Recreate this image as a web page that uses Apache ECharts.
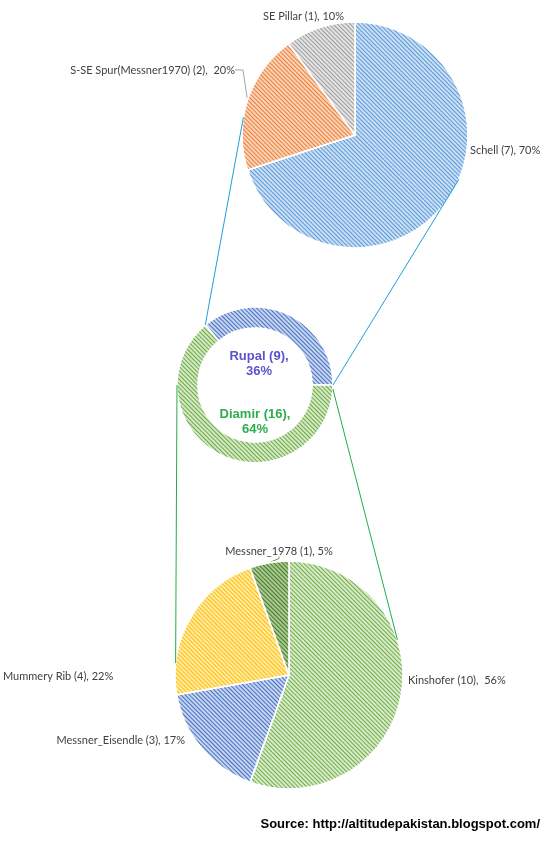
<!DOCTYPE html>
<html>
<head>
<meta charset="utf-8">
<script src="https://cdn.jsdelivr.net/npm/echarts@6/dist/echarts.min.js"></script>
<style>
  html, body { margin: 0; padding: 0; background: #ffffff; }
  #chart { width: 550px; height: 843px; }
</style>
</head>
<body>
<div id="chart"></div>
<script>
// ---- data ----
const rupalRoutes = ['Schell', 'S-SE Spur(Messner1970)', 'SE Pillar'];
const rupalCounts = [7, 2, 1];
const faceNames = ['Rupal', 'Diamir'];
const faceCounts = [9, 16];
const diamirRoutes = ['Kinshofer', 'Messner_Eisendle', 'Mummery Rib', 'Messner_1978'];
const diamirCounts = [10, 3, 4, 1];
const sourceText = 'Source: http://altitudepakistan.blogspot.com/';

// ---- styling ----
const rupalFill = ['#C9DEF3', '#F9D2B6', '#E2E2E2'];
const rupalStripe = ['#5C9AD8', '#EC7F3A', '#9E9E9E'];
const faceFill = ['#C7D4EE', '#D3E8C5'];
const faceStripe = ['#4470C4', '#6EAA45'];
const diamirFill = ['#D6EAC9', '#C7D4EE', '#FFE9A6', '#A6C98D'];
const diamirStripe = ['#72AE4A', '#4470C4', '#FFC000', '#4A7630'];
const faceLabelColors = ['#5B54CC', '#2EAD4B'];
const labelGaps = {'S-SE Spur(Messner1970)': '  ', 'Kinshofer': '  '};

// geometry (pixels)
const topC = [355, 135], topR = 113;
const midC = [255, 385], midR = [57, 78];
const botC = [289, 675], botR = 114;

function stripes(color) {
  return {
    symbol: 'rect', symbolSize: 1,
    dashArrayX: [1, 0], dashArrayY: [1, 2],
    rotation: Math.PI / 4, color: color
  };
}
function items(names, vals, fills, strs, leader) {
  return names.map((n, i) => ({
    name: n, value: vals[i],
    itemStyle: { color: fills[i], decal: stripes(strs[i]) },
    labelLine: { show: !!(leader && leader[n]) }
  }));
}
function fmt(p) {
  const gap = labelGaps[p.name] || ' ';
  return p.name + ' (' + p.value + '),' + gap + p.percent + '%';
}
// point on a circle, angle clockwise from 12 o'clock (deg)
function pt(c, r, a) {
  const t = a * Math.PI / 180;
  return [c[0] + r * Math.sin(t), c[1] - r * Math.cos(t)];
}

const labelPos = {
  'SE Pillar': [263, 16, 'left'],
  'S-SE Spur(Messner1970)': [235, 70, 'right'],
  'Schell': [470, 150, 'left'],
  'Rupal': [259, 364, 'center'],
  'Diamir': [255, 422, 'center'],
  'Messner_1978': [279, 551, 'center'],
  'Kinshofer': [408, 680, 'left'],
  'Mummery Rib': [3, 676, 'left'],
  'Messner_Eisendle': [185, 740, 'right']
};
function layout(params) {
  const names = [rupalRoutes, faceNames, diamirRoutes][params.seriesIndex];
  const p = labelPos[names[params.dataIndex]];
  return { x: p[0], y: p[1], align: p[2], verticalAlign: 'middle' };
}

const chart = echarts.init(document.getElementById('chart'), null, { renderer: 'canvas' });
const labelFont = { fontFamily: 'Lato, "Open Sans", sans-serif', fontSize: 11, color: '#404040' };

const connectors = [
  [pt(midC, midR[1], 320.4), pt(topC, topR, 279), '#1C9FDE'],
  [pt(midC, midR[1], 90), pt(topC, topR, 113), '#1C9FDE'],
  [pt(midC, midR[1], 270), pt(botC, botR, 276), '#22AE48'],
  [pt(midC, midR[1], 93), pt(botC, botR, 72), '#22AE48']
];

chart.setOption({
  backgroundColor: '#ffffff',
  animation: false,
  title: {
    text: sourceText, right: 5, bottom: 7,
    textStyle: { fontFamily: 'Liberation Sans, Arial, sans-serif', fontSize: 13, fontWeight: 'bold', color: '#000000' }
  },
  graphic: connectors.map(c => ({
    type: 'line', z: 100, silent: true,
    shape: { x1: c[0][0], y1: c[0][1], x2: c[1][0], y2: c[1][1] },
    style: { stroke: c[2], lineWidth: 1 }
  })),
  series: [
    {
      type: 'pie', center: topC, radius: [0, topR], startAngle: 90, clockwise: true,
      avoidLabelOverlap: false, percentPrecision: 0,
      itemStyle: { borderColor: '#ffffff', borderWidth: 1.5 },
      label: Object.assign({ show: true, position: 'outside', formatter: fmt }, labelFont),
      labelLine: { lineStyle: { color: '#A6A6A6', width: 1 }, length: 8, length2: 8 },
      labelLayout: layout,
      data: items(rupalRoutes, rupalCounts, rupalFill, rupalStripe, { 'S-SE Spur(Messner1970)': true })
    },
    {
      type: 'pie', center: midC, radius: midR, startAngle: 129.6, clockwise: true,
      avoidLabelOverlap: false, percentPrecision: 0,
      itemStyle: { borderColor: '#ffffff', borderWidth: 1.5 },
      label: {
        show: true, position: 'outside',
        formatter: '{b} ({c}),\n{d}%',
        fontFamily: 'Liberation Sans, Arial, sans-serif', fontSize: 13, fontWeight: 'bold',
        lineHeight: 15
      },
      labelLine: { show: false },
      labelLayout: layout,
      data: items(faceNames, faceCounts, faceFill, faceStripe, {}).map((d, i) => {
        d.label = { color: faceLabelColors[i] };
        return d;
      })
    },
    {
      type: 'pie', center: botC, radius: [0, botR], startAngle: 90, clockwise: true,
      avoidLabelOverlap: false, percentPrecision: 0,
      itemStyle: { borderColor: '#ffffff', borderWidth: 1.5 },
      label: Object.assign({ show: true, position: 'outside', formatter: fmt }, labelFont),
      labelLine: { lineStyle: { color: '#5E9E46', width: 1 }, length: 4, length2: 2 },
      labelLayout: layout,
      data: items(diamirRoutes, diamirCounts, diamirFill, diamirStripe, { 'Messner_1978': true })
    }
  ]
});
</script>
</body>
</html>
